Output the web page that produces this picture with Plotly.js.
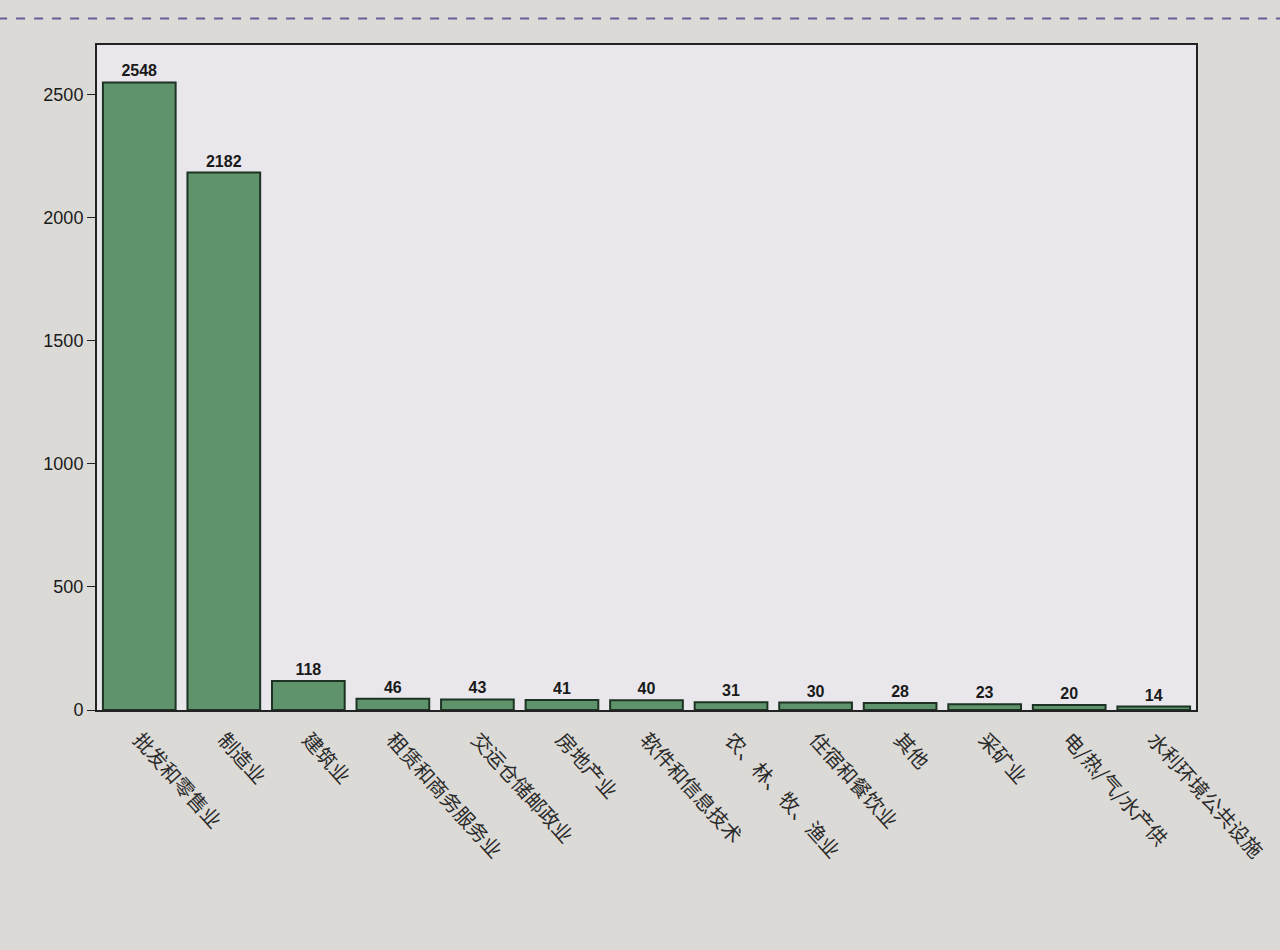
<!DOCTYPE html>
<html>
<head>
<meta charset="utf-8">
<script src="https://cdn.plot.ly/plotly-3.0.1.min.js"></script>
<style>body{margin:0;background:#dcdad6;}#chart{width:1280px;height:950px;}</style>
</head>
<body>
<div id="chart"></div>
<script>
const categories = ["批发和零售业","制造业","建筑业","租赁和商务服务业","交运仓储邮政业","房地产业","软件和信息技术","农、林、牧、渔业","住宿和餐饮业","其他","采矿业","电/热/气/水产供","水利环境公共设施"];
const values = [2548, 2182, 118, 46, 43, 41, 40, 31, 30, 28, 23, 20, 14];
const yTicks = [0, 500, 1000, 1500, 2000, 2500];

const trace = {
  type: 'bar',
  x: categories,
  y: values,
  text: values.map(v => '<b>' + v + '</b>'),
  textposition: 'outside',
  cliponaxis: false,
  textfont: {family: 'Liberation Sans, Arial, sans-serif', size: 16, color: '#1a1a1a'},
  marker: {color: '#5f936b', line: {color: '#1d3323', width: 2}},
  width: 0.86
};

const layout = {
  width: 1280, height: 950,
  margin: {l: 97, r: 84, t: 45, b: 240},
  paper_bgcolor: '#dcdad6',
  plot_bgcolor: '#e9e7eb',
  showlegend: false,
  font: {family: 'Liberation Sans, Arial, sans-serif', color: '#1a1a1a'},
  xaxis: {
    tickangle: 48,
    tickfont: {family: 'Noto Sans CJK SC', size: 20, color: '#2a2a2a'},
    ticklabelstandoff: 8,
    showline: true, linecolor: '#222', linewidth: 2, mirror: true,
    ticks: '', showgrid: false
  },
  yaxis: {
    range: [0, 2700],
    tickvals: yTicks,
    ticktext: yTicks.map(String),
    ticks: 'outside', ticklen: 8, tickcolor: '#222',
    tickfont: {size: 18, color: '#1a1a1a'},
    showline: true, linecolor: '#222', linewidth: 2, mirror: true,
    showgrid: false, zeroline: false
  },
  shapes: [{
    type: 'line', xref: 'paper', yref: 'paper',
    x0: -0.09, x1: 1.08, y0: 1.04, y1: 1.04,
    line: {color: '#6a5a9a', width: 2, dash: 'dash'}
  }]
};

Plotly.newPlot('chart', [trace], layout, {displayModeBar: false, staticPlot: true});
</script>
</body>
</html>
